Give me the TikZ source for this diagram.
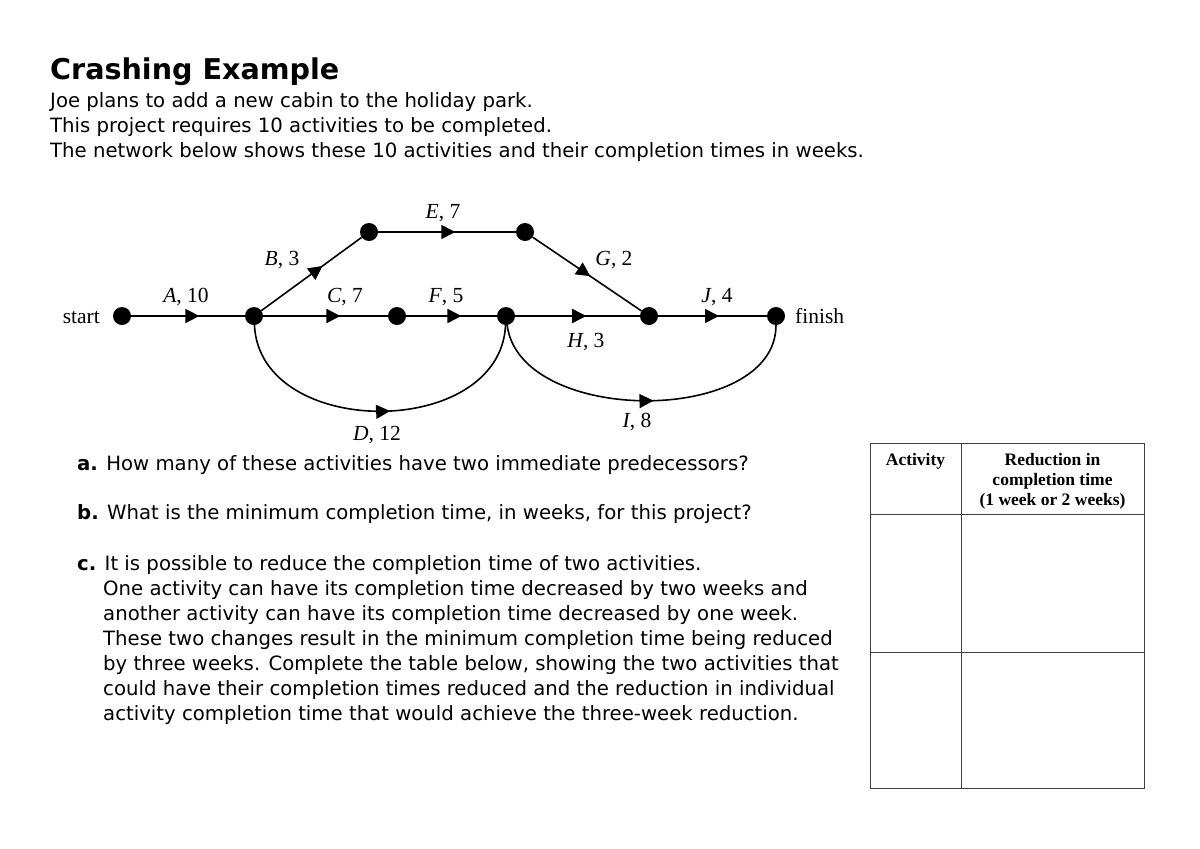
\documentclass[tikz,border=0pt]{standalone}
\usepackage{fontspec}
\setmainfont{DejaVu Sans}
\newfontfamily\tms{Liberation Serif}
\usetikzlibrary{arrows.meta,decorations.markings}
\begin{document}
\begin{tikzpicture}[x=1pt,y=-1pt,
  dot/.style={circle,fill=black,minimum size=18pt,inner sep=0pt},
  edge/.style={line width=1.6pt},
  arr/.style={edge,postaction={decorate},decoration={markings,mark=at position #1 with {\arrow{Triangle[length=14pt,width=14pt]}}}},
  lbl/.style={font=\tms\fontsize{21.5}{24}\selectfont,anchor=base,inner sep=0pt},
  body/.style={font=\fontsize{19.7}{25}\selectfont,anchor=base west,inner sep=0pt},
  ttl/.style={font=\bfseries\fontsize{28.6}{32}\selectfont,anchor=base west,inner sep=0pt},
  th/.style={font=\tms\bfseries\fontsize{17.5}{20}\selectfont,anchor=base,inner sep=0pt},
  grid/.style={draw=black!75,line width=1pt}]
\useasboundingbox[fill=white] (0,0) rectangle (1200,849);

% header text
\node[ttl] (title) at (50,79) {Crashing Example};
\node[body] (t1) at (50,107) {Joe plans to add a new cabin to the holiday park.};
\node[body] (t2) at (50,132) {This project requires 10 activities to be completed.};
\node[body] (t3) at (50,157) {The network below shows these 10 activities and their completion times in weeks.};

% network nodes
\node[dot] (s)  at (122,316) {};
\node[dot] (n1) at (254,316) {};
\node[dot] (n2) at (369,232) {};
\node[dot] (n3) at (525,232) {};
\node[dot] (n4) at (397,316) {};
\node[dot] (n5) at (506,316) {};
\node[dot] (n6) at (649,316) {};
\node[dot] (f)  at (776,316) {};

% edges
\draw[arr=0.6] (s) -- (n1);
\draw[arr=0.61] (n1) -- (n2);
\draw[arr=0.62] (n1) -- (n4);
\draw[arr=0.61] (n4) -- (n5);
\draw[arr=0.56] (n2) -- (n3);
\draw[arr=0.53] (n3) -- (n6);
\draw[arr=0.57] (n5) -- (n6);
\draw[arr=0.56] (n6) -- (f);
\draw[arr=0.53] (n1) .. controls (260,440) and (500,440) .. (n5);
\draw[arr=0.53] (n5) .. controls (520,426) and (776,426) .. (f);

% labels
\node[lbl] (lA) at (186,302) {\textit{A}, 10};
\node[lbl] (lB) at (282,265) {\textit{B}, 3};
\node[lbl] (lC) at (345,302) {\textit{C}, 7};
\node[lbl] (lF) at (446,302) {\textit{F}, 5};
\node[lbl] (lE) at (443,218) {\textit{E}, 7};
\node[lbl] (lG) at (614,265) {\textit{G}, 2};
\node[lbl] (lJ) at (717,302) {\textit{J}, 4};
\node[lbl] (lH) at (586,347) {\textit{H}, 3};
\node[lbl] (lD) at (377,440) {\textit{D}, 12};
\node[lbl] (lI) at (637,427) {\textit{I}, 8};
\node[lbl,anchor=base east] (lstart) at (100,323) {start};
\node[lbl,anchor=base west] (lfinish) at (795,323) {finish};

% questions
\node[body] (qa) at (77,470) {\textbf{a.} How many of these activities have two immediate predecessors?};
\node[body] (qb) at (77,519) {\textbf{b.} What is the minimum completion time, in weeks, for this project?};
\node[body] (qc) at (77,570) {\textbf{c.} It is possible to reduce the completion time of two activities.};
\node[body] (qc1) at (103,595) {One activity can have its completion time decreased by two weeks and};
\node[body] (qc2) at (103,620) {another activity can have its completion time decreased by one week.};
\node[body] (qc3) at (103,645) {These two changes result in the minimum completion time being reduced};
\node[body] (qc4) at (103,670) {by three weeks. Complete the table below, showing the two activities that};
\node[body] (qc5) at (103,695) {could have their completion times reduced and the reduction in individual};
\node[body] (qc6) at (103,720) {activity completion time that would achieve the three-week reduction.};

% table
\draw[grid] (870,443) rectangle (1144,788);
\draw[grid] (961,443) -- (961,788);
\draw[grid] (870,514) -- (1144,514);
\draw[grid] (870,652) -- (1144,652);
\node[th] (hA) at (915.5,465) {Activity};
\node[th] (hR1) at (1052.5,465) {Reduction in};
\node[th] (hR2) at (1052.5,485) {completion time};
\node[th] (hR3) at (1052.5,505) {(1 week or 2 weeks)};
\end{tikzpicture}
\end{document}
